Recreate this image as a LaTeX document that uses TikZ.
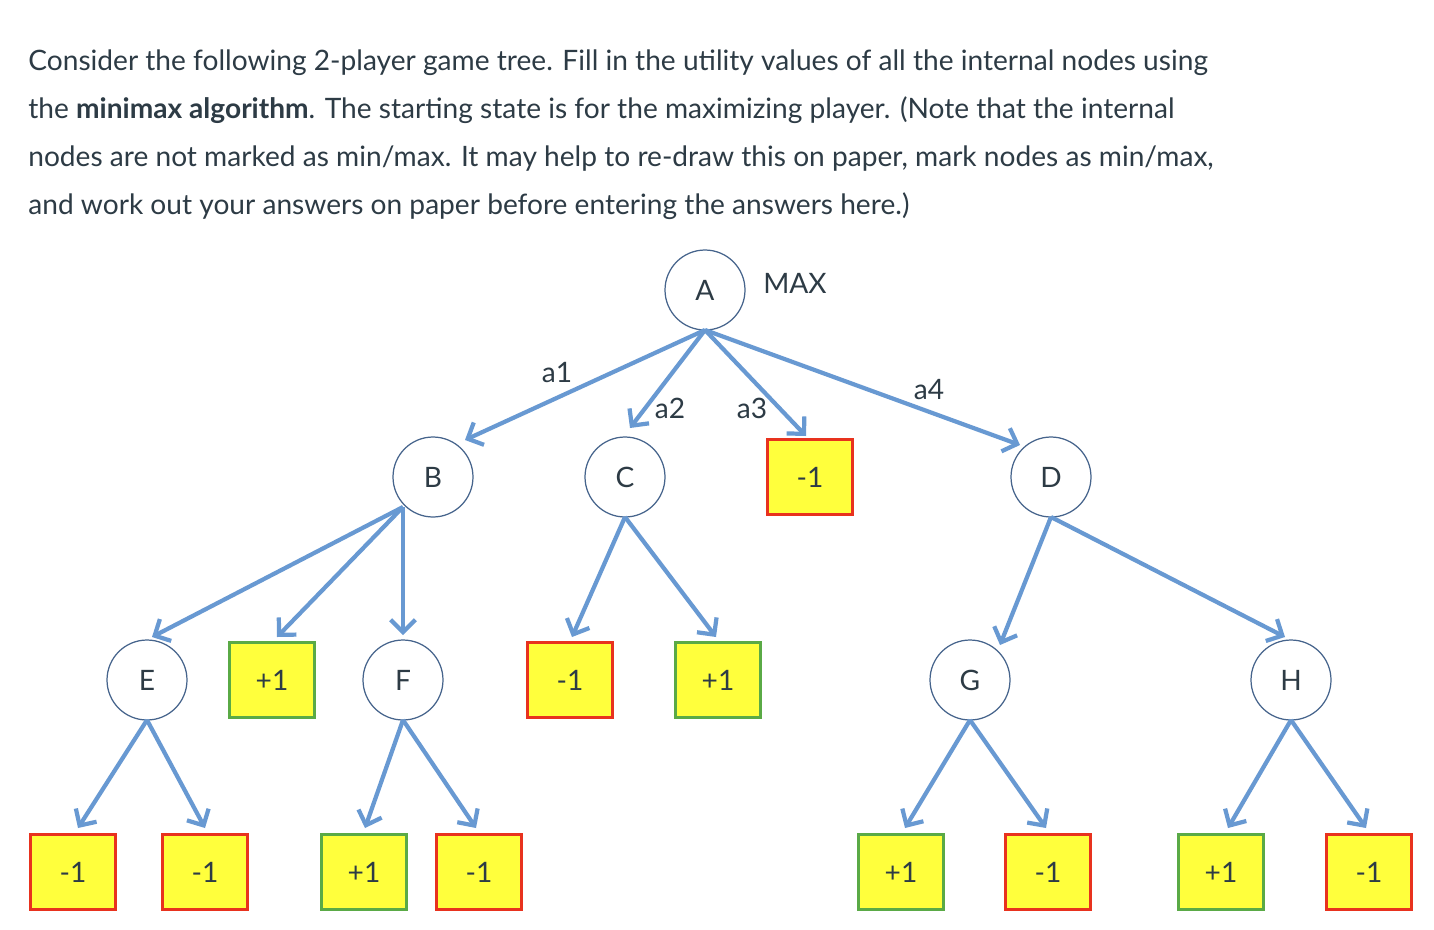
\documentclass[tikz,border=0pt]{standalone}
\usepackage{fontspec}
\setmainfont{Lato}
\usetikzlibrary{arrows.meta}
\definecolor{edge}{RGB}{104,153,210}
\definecolor{circ}{RGB}{70,100,140}
\definecolor{fillY}{RGB}{255,255,60}
\definecolor{bred}{RGB}{232,50,30}
\definecolor{bgreen}{RGB}{90,170,70}
\definecolor{txt}{RGB}{45,59,69}
\begin{document}
\begin{tikzpicture}[x=0.02cm,y=-0.02cm,
  every node/.style={font=\fontsize{16}{19}\selectfont,text=txt},
  st/.style={circle,draw=circ,line width=0.7pt,minimum size=1.6cm,inner sep=0pt,fill=white},
  lf/.style={rectangle,fill=fillY,line width=2.2pt,minimum width=1.7cm,minimum height=1.5cm,inner sep=0pt},
  rb/.style={lf,draw=bred},
  gb/.style={lf,draw=bgreen},
  ar/.style={draw=edge,line width=2.4pt,-{Straight Barb[length=7pt,width=14pt,line width=2.4pt]}},
  lb/.style={inner sep=0pt}]
\useasboundingbox (0,0) rectangle (1434,930);
\fill[white] (0,0) rectangle (1434,930);
\node[lb,anchor=base west] (t1) at (28,70) {Consider the following 2-player game tree. Fill in the utility values of all the internal nodes using};
\node[lb,anchor=base west] (t2) at (28,118) {the \textbf{minimax algorithm}. The starting state is for the maximizing player. (Note that the internal};
\node[lb,anchor=base west] (t3) at (28,166) {nodes are not marked as min/max. It may help to re-draw this on paper, mark nodes as min/max,};
\node[lb,anchor=base west] (t4) at (28,214) {and work out your answers on paper before entering the answers here.)};

\node[st] (A) at (705,290) {A};
\node (max) at (795,283) {MAX};
\node[st] (B) at (433,477) {B};
\node[st] (C) at (625,477) {C};
\node[rb] (a3l) at (810,477) {-1};
\node[st] (D) at (1051,477) {D};
\node[st] (E) at (147,680) {E};
\node[gb] (Bp) at (272,680) {+1};
\node[st] (F) at (403,680) {F};
\node[rb] (Cm) at (570,680) {-1};
\node[gb] (Cp) at (718,680) {+1};
\node[st] (G) at (970,680) {G};
\node[st] (H) at (1291,680) {H};
\node[rb] (L1) at (73,872) {-1};
\node[rb] (L2) at (205,872) {-1};
\node[gb] (L3) at (364,872) {+1};
\node[rb] (L4) at (479,872) {-1};
\node[gb] (L5) at (901,872) {+1};
\node[rb] (L6) at (1048,872) {-1};
\node[gb] (L7) at (1221,872) {+1};
\node[rb] (L8) at (1369,872) {-1};

\coordinate (As) at (705,330);
\coordinate (Bs) at (403,507);
\coordinate (Cs) at (625,517);
\coordinate (Ds) at (1051,517);
\coordinate (Es) at (147,720);
\coordinate (Fs) at (403,720);
\coordinate (Gs) at (970,720);
\coordinate (Hs) at (1291,720);
\coordinate (eB) at (465,440);
\coordinate (eC) at (630,428);
\coordinate (e3) at (806,436);
\coordinate (eD) at (1020,445);
\draw[ar] (As) -- (eB);
\draw[ar] (As) -- (eC);
\draw[ar] (As) -- (e3);
\draw[ar] (As) -- (eD);
\coordinate (eE) at (152,637); \coordinate (eBp) at (277,637); \coordinate (eF) at (403,635);
\draw[ar] (Bs) -- (eE); \draw[ar] (Bs) -- (eBp); \draw[ar] (Bs) -- (eF);
\coordinate (eCm) at (572,637); \coordinate (eCp) at (716,637);
\draw[ar] (Cs) -- (eCm); \draw[ar] (Cs) -- (eCp);
\coordinate (eG) at (1000,645); \coordinate (eH) at (1285,637);
\draw[ar] (Ds) -- (eG); \draw[ar] (Ds) -- (eH);
\coordinate (e1) at (78,828); \coordinate (e2) at (205,828);
\coordinate (e3b) at (365,828); \coordinate (e4) at (476,828);
\coordinate (e5) at (905,828); \coordinate (e6) at (1046,828);
\coordinate (e7) at (1228,828); \coordinate (e8) at (1366,828);
\draw[ar] (Es) -- (e1); \draw[ar] (Es) -- (e2);
\draw[ar] (Fs) -- (e3b); \draw[ar] (Fs) -- (e4);
\draw[ar] (Gs) -- (e5); \draw[ar] (Gs) -- (e6);
\draw[ar] (Hs) -- (e7); \draw[ar] (Hs) -- (e8);
\node (la1) at (557,373) {a1};
\node (la2) at (670,408) {a2};
\node (la3) at (752,408) {a3};
\node (la4) at (929,390) {a4};
\end{tikzpicture}
\end{document}
